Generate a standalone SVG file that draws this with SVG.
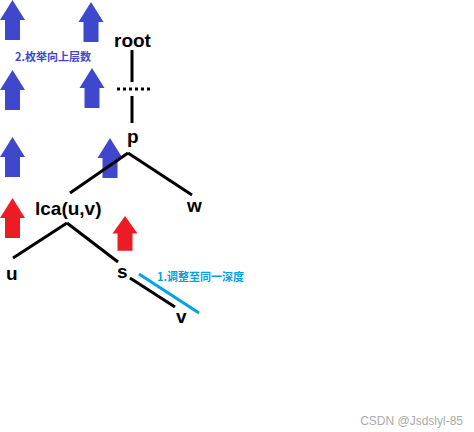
<svg xmlns="http://www.w3.org/2000/svg" xmlns:xlink="http://www.w3.org/1999/xlink" width="474" height="432" viewBox="0 0 474 432">
<style>
.lbl{font-family:"Liberation Sans","Noto Sans CJK SC",sans-serif;font-weight:bold;font-size:19px;fill:#000}
.edge{stroke:#000;stroke-width:3;fill:none;stroke-linecap:butt}
.note{font-family:"Noto Sans CJK SC","Liberation Sans",sans-serif;font-weight:bold;font-size:11px}
.blue{fill:#3f48cc}
.red{fill:#ed1c24}
</style>
<defs>
<polygon id="arrow" points="0,0 12.5,20 7.5,20 7.5,40 -7.5,40 -7.5,20 -12.5,20" stroke-linejoin="round"/>
</defs>
<rect width="474" height="432" fill="#fff"/>
<g id="arrows">
<use xlink:href="#arrow" class="blue" x="12.5" y="0"/>
<use xlink:href="#arrow" class="blue" x="91" y="2"/>
<use xlink:href="#arrow" class="blue" x="12.5" y="70"/>
<use xlink:href="#arrow" class="blue" x="92" y="68"/>
<use xlink:href="#arrow" class="blue" x="12.5" y="137"/>
<use xlink:href="#arrow" class="blue" x="110" y="138"/>
<use xlink:href="#arrow" class="red" x="12.5" y="198"/>
<use xlink:href="#arrow" class="red" transform="translate(125,216) scale(1,0.87)"/>
</g>
<g id="connectors">
<line class="edge" x1="132" y1="50" x2="132" y2="82"/>
<line x1="117" y1="89" x2="151" y2="89" stroke="#000" stroke-width="3" stroke-dasharray="3,3"/>
<line class="edge" x1="132" y1="96" x2="132" y2="123"/>
<line class="edge" x1="128" y1="153" x2="192" y2="195"/>
<line class="edge" x1="128" y1="153" x2="70" y2="193"/>
<line class="edge" x1="67" y1="223" x2="13" y2="258"/>
<line class="edge" x1="67" y1="223" x2="118" y2="262"/>
<line class="edge" x1="130" y1="278" x2="175" y2="307"/>
<line x1="139" y1="274" x2="199" y2="313" stroke="#00a2e8" stroke-width="3"/>
</g>
<g id="node-root"><text class="lbl" x="114" y="47">root</text></g>
<g id="node-p"><text class="lbl" x="127" y="143">p</text></g>
<g id="node-w"><text class="lbl" x="187" y="212">w</text></g>
<g id="node-lca"><text class="lbl" x="35" y="215">lca(u,v)</text></g>
<g id="node-u"><text class="lbl" x="6" y="280">u</text></g>
<g id="node-s"><text class="lbl" x="117" y="278">s</text></g>
<g id="node-v"><text class="lbl" x="176" y="323">v</text></g>
<text class="note" x="15" y="61" fill="#3f48cc">2.枚举向上层数</text>
<text class="note" x="157" y="281" fill="#00a2e8">1.调整至同一深度</text>
<text x="463" y="425" text-anchor="end" font-family="Liberation Sans,sans-serif" font-size="12" fill="#aaa">CSDN @Jsdslyl-85</text>
</svg>
